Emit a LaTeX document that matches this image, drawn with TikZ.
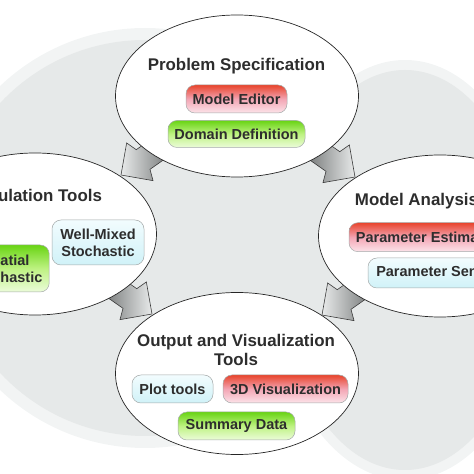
\documentclass[tikz,border=0pt]{standalone}
\usepackage{fontspec}
\setmainfont{Liberation Sans}
\usetikzlibrary{shapes.geometric}
\definecolor{bggray}{RGB}{230,233,233}
\definecolor{bghalo}{RGB}{242,244,244}
\definecolor{txt}{RGB}{45,45,45}
\definecolor{redtop}{RGB}{232,68,44}
\definecolor{redmid}{RGB}{243,165,180}
\definecolor{redbot}{RGB}{252,228,234}
\definecolor{greentop}{RGB}{105,212,20}
\definecolor{greenmid}{RGB}{190,242,130}
\definecolor{greenbot}{RGB}{236,252,218}
\definecolor{cyantop}{RGB}{242,252,254}
\definecolor{cyanbot}{RGB}{208,242,248}
\definecolor{arrdark}{RGB}{100,103,103}
\definecolor{arrlight}{RGB}{232,234,234}
\definecolor{arredge}{RGB}{60,60,60}
\definecolor{boxedge}{RGB}{165,170,170}
\newcommand{\headpath}{(0,0) -- (-23,23) -- (-27,12) -- (-60,12) -- (-60,-12) -- (-27,-12) -- (-23,-23) -- cycle}
\begin{document}
\begin{tikzpicture}[x=1pt,y=1pt,
  phase/.style={ellipse, draw=black!85, line width=0.7pt, fill=white,
    minimum width=243, minimum height=162, inner sep=0},
  heading/.style={font=\fontsize{16.9}{19.3}\selectfont\bfseries, text=txt,
    anchor=base, inner sep=0},
  pill/.style={rounded corners=9pt, draw=boxedge, line width=0.5pt, inner sep=0,
    font=\fontsize{14.5}{16.7}\selectfont\bfseries, text=txt, align=center,
    minimum height=28},
  redpill/.style={pill, top color=redtop, bottom color=redbot, middle color=redmid},
  greenpill/.style={pill, top color=greentop, bottom color=greenbot, middle color=greenmid},
  cyanpill/.style={pill, top color=cyantop, bottom color=cyanbot},
  arrowR/.style={draw=arredge, line width=0.6pt, left color=arrdark, right color=arrlight},
  arrowL/.style={draw=arredge, line width=0.6pt, left color=arrlight, right color=arrdark},
]
\useasboundingbox (0,0) rectangle (474,474);
\clip (0,0) rectangle (474,474);
% background blobs
\fill[bghalo] (145,236) circle (210);
\fill[bghalo] (405,204) ellipse (135 and 210);
\fill[bggray] (145,236) circle (198);
\fill[bggray] (405,204) ellipse (125 and 200);
% bottom phase
\node[phase] (bot) at (237,100.5) {};
\coordinate (t3) at (152,160);
\coordinate (t4) at (322,159);
\draw[arrowR, shift={(t3)}, rotate=-35] \headpath;
\draw[arrowL, shift={(t4)}, rotate=215] \headpath;
% left and right phases
\node[phase] (left) at (35,240) {};
\node[phase] (right) at (440,238) {};
\coordinate (t1) at (121,299);
\coordinate (t2) at (355,297);
\draw[arrowL, shift={(t1)}, rotate=215] \headpath;
\draw[arrowR, shift={(t2)}, rotate=-35] \headpath;
% top phase
\node[phase] (top) at (237,378) {};
% texts of top
\node[heading] (h1) at (236.5,403.3) {Problem Specification};
\node[redpill, minimum width=101] (me) at (236.5,375) {Model Editor};
\node[greenpill, minimum width=137, minimum height=27] (dd) at (236.5,340) {Domain Definition};
% left
\node[heading] (h2) at (34.5,272) {Simulation Tools};
\node[cyanpill, minimum width=92, minimum height=45] (wm) at (98,231.5) {Well-Mixed\\Stochastic};
\node[greenpill, minimum width=87, minimum height=47] (ss) at (5.7,205.5) {Spatial\\Stochastic};
% right
\node[heading] (h3) at (416.5,268.3) {Model Analysis};
\node[redpill, minimum width=163, minimum height=29] (pe) at (430.5,236.8) {Parameter Estimation};
\node[cyanpill, minimum width=164, minimum height=30] (ps) at (450,201) {Parameter Sensitivity};
% bottom
\node[heading] (h4a) at (236,127.3) {Output and Visualization};
\node[heading] (h4b) at (236,108) {Tools};
\node[cyanpill, minimum width=81] (pt) at (172.5,85) {Plot tools};
\node[redpill, minimum width=125] (vz) at (285.5,85) {3D Visualization};
\node[greenpill, minimum width=117] (sd) at (236.5,48) {Summary Data};
\end{tikzpicture}
\end{document}
